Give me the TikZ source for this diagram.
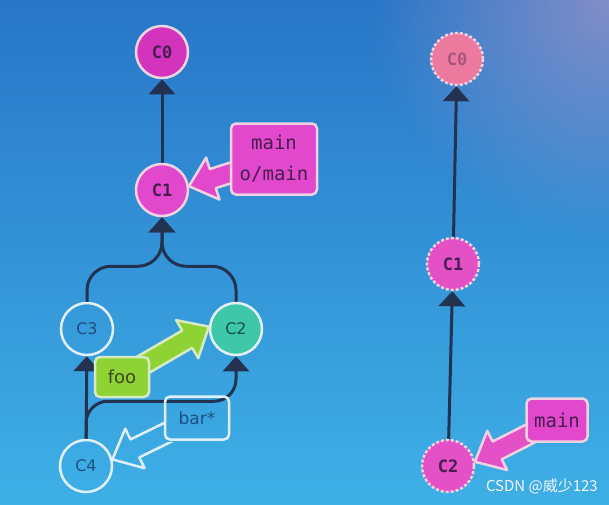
\documentclass[tikz,border=0pt]{standalone}
\usepackage{fontspec}
\setmainfont{DejaVu Sans}
\newfontfamily\monof{DejaVu Sans Mono}
\newfontfamily\cjkf{Noto Sans CJK SC}
\usetikzlibrary{arrows.meta,calc,fadings}
\pgfdeclarelayer{bg}\pgfdeclarelayer{edges}\pgfdeclarelayer{arrows}\pgfdeclarelayer{labels}
\pgfsetlayers{bg,edges,main,arrows,labels}
\definecolor{bgtop}{RGB}{40,118,200}
\definecolor{bgmid}{RGB}{48,150,218}
\definecolor{bgbot}{RGB}{62,176,230}
\definecolor{bgviolet}{RGB}{160,150,200}
\definecolor{magA}{RGB}{212,52,188}
\definecolor{magB}{RGB}{226,72,204}
\definecolor{magR}{RGB}{228,80,198}
\definecolor{pinkfade}{RGB}{236,122,158}
\definecolor{pinkline}{RGB}{238,210,225}
\definecolor{pinktext}{RGB}{70,30,80}
\definecolor{openline}{RGB}{225,240,248}
\definecolor{opentext}{RGB}{30,80,130}
\definecolor{tealc}{RGB}{62,200,168}
\definecolor{tealtext}{RGB}{20,80,80}
\definecolor{limec}{RGB}{142,210,52}
\definecolor{limeline}{RGB}{215,235,195}
\definecolor{limetext}{RGB}{60,72,40}
\definecolor{linkc}{RGB}{35,50,80}
\tikzfading[name=cornerfade, inner color=transparent!25, outer color=transparent!100]
\newcommand\fatarrow[4]{%
  \coordinate (fah) at ($(#2)!25pt!(#1)$);
  \filldraw[fill=#3,draw=#4,line width=2.5pt,line join=round]
    ($(#1)!10pt!90:(#2)$) -- ($(fah)!10pt!-90:(#1)$) -- ($(fah)!22pt!-90:(#1)$) -- (#2)
    -- ($(fah)!22pt!90:(#1)$) -- ($(fah)!10pt!90:(#1)$) -- ($(#1)!10pt!-90:(#2)$);
}
\tikzset{
  commit/.style={circle, minimum size=52pt, inner sep=0pt, line width=2.5pt},
  pinkc/.style={commit, fill=#1, draw=pinkline, text=pinktext, font=\monof\bfseries\fontsize{17}{17}\selectfont},
  dashc/.style={pinkc=#1, dash pattern=on 3pt off 2pt},
  openc/.style={commit, draw=openline, text=opentext, font=\fontsize{16}{16}\selectfont},
  tealcommit/.style={commit, fill=tealc, draw=openline, text=tealtext, font=\fontsize{16}{16}\selectfont},
  pinklabel/.style={rounded corners=5pt, fill=magB, draw=pinkline, line width=2.5pt, text=pinktext, align=center, inner sep=0pt, font=\monof\fontsize{19}{31}\selectfont},
  limelabel/.style={rounded corners=5pt, fill=limec, draw=limeline, line width=2.5pt, text=limetext, inner sep=0pt, font=\fontsize{18}{18}\selectfont},
  openlabel/.style={rounded corners=5pt, draw=openline, line width=2.5pt, text=opentext, inner sep=0pt, font=\fontsize{17}{17}\selectfont},
  link/.style={draw=linkc, line width=3pt, -{Triangle[width=26pt,length=15pt]}},
}
\begin{document}
\begin{tikzpicture}[x=1pt,y=-1pt]
\useasboundingbox (0,0) rectangle (609,504);
\begin{pgfonlayer}{bg}
  \shade[top color=bgtop, middle color=bgmid, bottom color=bgbot] (0,0) rectangle (609,504);
  \fill[bgviolet, path fading=cornerfade] (609,0) circle (240pt);
\end{pgfonlayer}
% left graph
\node[pinkc=magA] (C0) at (162,52) {C0};
\node[pinkc=magB] (C1) at (162,190) {C1};
\node[openc] (C3) at (87,329) {C3};
\node[tealcommit] (C2) at (236,329) {C2};
\node[openc] (C4) at (86,466) {C4};
% right graph
\node[dashc=pinkfade, text=pinktext!40!pinkfade] (R0) at (457,59) {C0};
\node[dashc=magR] (R1) at (453,264) {C1};
\node[dashc=magR] (R2) at (448,466) {C2};
\begin{pgfonlayer}{labels}
  \node[pinklabel, minimum width=86pt, minimum height=71pt] (mainL) at (274,159) {main\\o/main};
  \node[limelabel, minimum width=54pt, minimum height=40pt] (foo) at (122,377) {foo};
  \node[openlabel, minimum width=64pt, minimum height=43pt] (bar) at (197,418) {bar*};
  \node[pinklabel, minimum width=61pt, minimum height=43pt] (mainR) at (557,420) {main};
\end{pgfonlayer}
\node[text=white!92!gray, font=\cjkf\fontsize{15}{15}\selectfont, anchor=east, inner sep=0pt] (wm) at (598,486) {CSDN @威少123};
\begin{pgfonlayer}{edges}
  \draw[link] (C1) -- (C0);
  \draw[link, rounded corners=24pt] (C3.north) |- ($(C1.south)+(0,49)$) -- (C1.south);
  \draw[link, rounded corners=24pt] (C2.north) |- ($(C1.south)+(0,49)$) -- (C1.south);
  \draw[link] (C4) -- (C3);
  \draw[link, rounded corners=22pt] (C4.north) |- ($(C2.south)+(0,45)$) -- (C2.south);
  \draw[link] (R1) -- (R0);
  \draw[link] (R2) -- (R1);
\end{pgfonlayer}
\begin{pgfonlayer}{arrows}
  \fatarrow{mainL.center}{C1.8}{magB}{pinkline}
  \fatarrow{foo.center}{C2.175}{limec}{limeline}
  \fatarrow{mainR.center}{R2.9}{magR}{pinkline}
  \begin{scope}[even odd rule]
    \clip (0,0) rectangle (609,504)
      ($(bar.south west)+(1,1)$) rectangle ($(bar.north east)+(-1,-1)$);
    \fatarrow{bar.center}{C4.14}{none}{openline}
  \end{scope}
\end{pgfonlayer}
\end{tikzpicture}
\end{document}
